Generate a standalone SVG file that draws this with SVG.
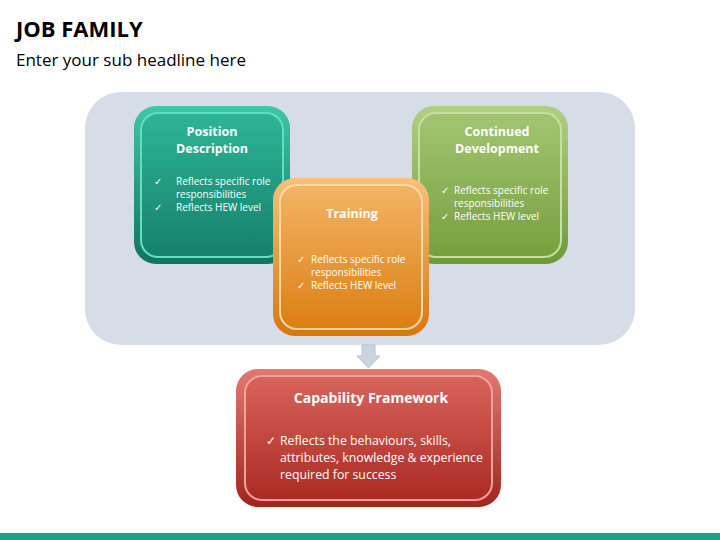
<svg xmlns="http://www.w3.org/2000/svg" width="720" height="540" viewBox="0 0 720 540">
<defs>
<linearGradient id="gt" x1="0" y1="0" x2="0" y2="1"><stop offset="0" stop-color="#3fc7a6"/><stop offset="1" stop-color="#137260"/></linearGradient>
<linearGradient id="gti" x1="0" y1="0" x2="0" y2="1"><stop offset="0" stop-color="#2db596"/><stop offset="1" stop-color="#16806b"/></linearGradient>
<linearGradient id="gg" x1="0" y1="0" x2="0" y2="1"><stop offset="0" stop-color="#b2cf84"/><stop offset="1" stop-color="#6f9a3a"/></linearGradient>
<linearGradient id="ggi" x1="0" y1="0" x2="0" y2="1"><stop offset="0" stop-color="#a3c572"/><stop offset="1" stop-color="#76a03f"/></linearGradient>
<linearGradient id="go" x1="0" y1="0" x2="0" y2="1"><stop offset="0" stop-color="#f7c07a"/><stop offset="1" stop-color="#d6780e"/></linearGradient>
<linearGradient id="goi" x1="0" y1="0" x2="0" y2="1"><stop offset="0" stop-color="#f3b465"/><stop offset="1" stop-color="#dc7f14"/></linearGradient>
<linearGradient id="gr" x1="0" y1="0" x2="0" y2="1"><stop offset="0" stop-color="#e07a73"/><stop offset="1" stop-color="#a3231d"/></linearGradient>
<linearGradient id="gri" x1="0" y1="0" x2="0" y2="1"><stop offset="0" stop-color="#d8645c"/><stop offset="1" stop-color="#ab2a22"/></linearGradient>
</defs>
<style>
text{font-family:"Open Sans","Liberation Sans",sans-serif;fill:#fff}
.h{font-weight:bold;font-size:12.5px}
.b{font-size:10px}
.c{font-size:12.3px}
</style>
<rect width="720" height="540" fill="#fff"/>
<text x="16" y="37" style="fill:#000;font-weight:bold;font-size:22px">JOB FAMILY</text>
<text x="16" y="66" style="fill:#000;font-size:17px">Enter your sub headline here</text>
<rect x="85" y="92" width="550" height="253" rx="36" fill="#d6dde6"/>
<g id="connectors">
<path d="M362 345 H375 V356 H380 L368.5 368 L357 356 H362 Z" fill="#c9d4e0" stroke="#b7c3d0" stroke-width="1"/>
</g>
<g id="position">
<rect x="134" y="106" width="156" height="158" rx="22" fill="url(#gt)"/>
<rect x="141" y="113" width="142" height="144" rx="17" fill="url(#gti)" stroke="#5fe0c2" stroke-width="2"/>
<text class="h" x="212" y="136" text-anchor="middle">Position</text>
<text class="h" x="212" y="153" text-anchor="middle">Description</text>
<text class="b" x="154" y="185">✓</text><text class="b" x="176" y="185">Reflects specific role</text>
<text class="b" x="176" y="198">responsibilities</text>
<text class="b" x="154" y="211">✓</text><text class="b" x="176" y="211">Reflects HEW level</text>
</g>
<g id="continued">
<rect x="412" y="106" width="156" height="158" rx="22" fill="url(#gg)"/>
<rect x="419" y="113" width="142" height="144" rx="17" fill="url(#ggi)" stroke="#c6e09e" stroke-width="2"/>
<text class="h" x="497" y="136" text-anchor="middle">Continued</text>
<text class="h" x="497" y="153" text-anchor="middle">Development</text>
<text class="b" x="441" y="194">✓</text><text class="b" x="454" y="194">Reflects specific role</text>
<text class="b" x="454" y="207">responsibilities</text>
<text class="b" x="441" y="220">✓</text><text class="b" x="454" y="220">Reflects HEW level</text>
</g>
<g id="training">
<rect x="273" y="178" width="156" height="158" rx="22" fill="url(#go)"/>
<rect x="280" y="185" width="142" height="144" rx="17" fill="url(#goi)" stroke="#ffd9a3" stroke-width="2"/>
<text class="h" x="352" y="218" text-anchor="middle">Training</text>
<text class="b" x="297" y="263">✓</text><text class="b" x="311" y="263">Reflects specific role</text>
<text class="b" x="311" y="276">responsibilities</text>
<text class="b" x="297" y="289">✓</text><text class="b" x="311" y="289">Reflects HEW level</text>
</g>
<g id="capability">
<rect x="236" y="369" width="265" height="138" rx="22" fill="url(#gr)"/>
<rect x="245" y="376" width="247" height="124" rx="17" fill="url(#gri)" stroke="#f0a29c" stroke-width="2"/>
<text x="371" y="403" text-anchor="middle" style="font-weight:bold;font-size:14px">Capability Framework</text>
<text class="c" x="266" y="445">✓</text>
<text class="c" x="280" y="445">Reflects the behaviours, skills,</text>
<text class="c" x="280" y="462">attributes, knowledge &amp; experience</text>
<text class="c" x="280" y="479">required for success</text>
</g>
<rect x="0" y="533" width="720" height="7" fill="#1f9e85"/>
</svg>
